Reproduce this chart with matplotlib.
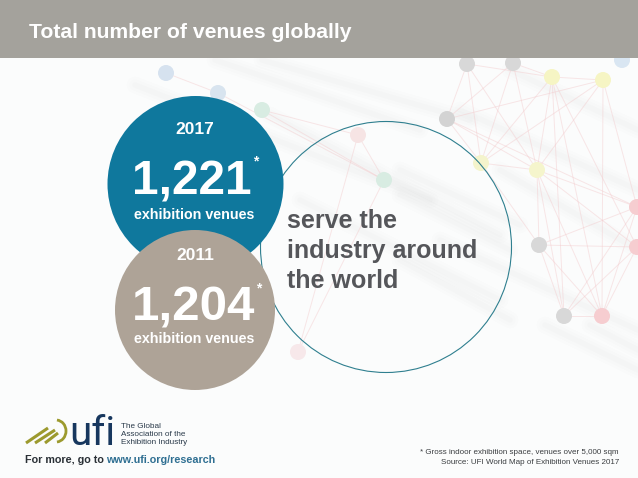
import matplotlib
matplotlib.use("Agg")
import matplotlib.pyplot as plt
from matplotlib.patches import Circle, Rectangle, Arc

plt.rcParams['font.family'] = ['Liberation Sans', 'DejaVu Sans']

title = "Total number of venues globally"
years = ["2017", "2011"]
counts = ["1,221", "1,204"]
unit = "exhibition venues"
claim = ["serve the", "industry around", "the world"]
foot_note = "* Gross indoor exhibition space, venues over 5,000 sqm"
foot_source = "Source: UFI World Map of Exhibition Venues 2017"
tagline = "For more, go to"
link = "www.ufi.org/research"
logo_lines = ["The Global", "Association of the", "Exhibition Industry"]

nodes = {
    'a': (467, 64, '#d8d8d8'), 'b': (513, 63, '#d8d8d8'), 'c': (552, 77, '#f6f5c4'),
    'd': (603, 80, '#f6f5c4'), 'e': (447, 119, '#d3d3d3'), 'f': (481, 163, '#f4f4cc'),
    'g': (537, 170, '#f5f5cc'), 'h': (539, 245, '#d8d8d8'), 'i': (564, 316, '#d8d8d8'),
    'j': (602, 316, '#f6cdd0'), 'k': (637, 207, '#f6cdd0'), 'l': (637, 247, '#f6cdd0'),
    'm': (622, 60, '#d9e6f2'), 'n': (166, 73, '#d6e2ef'), 'o': (218, 93, '#d8e4ef'),
    'p': (262, 110, '#d8ece2'), 'q': (358, 135, '#f6e4e4'), 'r': (384, 180, '#d8ece2'),
    's': (298, 352, '#f7e8ea'),
}
edges = ["ae", "af", "ag", "ac", "bc", "bf", "bg", "be", "ed", "eg", "ek", "ef", "fg", "cg", "cf",
         "cj", "ci", "cd", "cl", "dg", "dk", "dj", "df", "gh", "gi", "gj", "gk", "gl", "hl", "hi",
         "hj", "hk", "ij", "il", "ik", "jl", "jk", "fh", "pq", "pr", "qr", "or", "rs", "qs", "no"]
shadows = [(215, 60, 420, 130), (262, 60, 470, 120), (135, 85, 430, 200), (270, 115, 500, 235),
           (400, 170, 520, 225), (440, 240, 638, 330), (460, 110, 638, 190), (510, 70, 638, 130),
           (500, 170, 638, 250), (545, 325, 638, 370), (590, 325, 638, 350), (400, 195, 510, 250),
           (400, 260, 510, 320), (300, 200, 500, 300)]

fig = plt.figure(figsize=(6.38, 4.78), dpi=100, facecolor='#fbfcfc')
ax = fig.add_axes([0, 0, 1, 1])
ax.set_xlim(0, 638)
ax.set_ylim(478, 0)
ax.axis('off')

for x0, y0, x1, y1 in shadows:
    for w, al in ((12, .010), (8, .012), (4, .016)):
        ax.plot([x0, x1], [y0, y1], color='#555555', lw=w, alpha=al, solid_capstyle='round', zorder=1)
for pair in edges:
    a, b = nodes[pair[0]], nodes[pair[1]]
    ax.plot([a[0], b[0]], [a[1], b[1]], color='#f3c9cb', lw=.7, alpha=.45, zorder=2)
for x, y, c in nodes.values():
    ax.add_patch(Circle((x, y), 8, color=c, lw=0, zorder=3))

ax.add_patch(Rectangle((0, 0), 638, 58, color='#a4a29c', lw=0, zorder=4))
ax.text(29, 32, title, color='white', fontsize=15.2, fontweight='bold', va='center', zorder=5)

ax.add_patch(Circle((386, 247), 125.5, fc='none', ec='#2f7f8f', lw=.8, zorder=5))
ax.add_patch(Circle((195.5, 184), 88, color='#0f789d', lw=0, zorder=6))
ax.add_patch(Circle((195, 310), 80, color='#aea397', lw=0, zorder=7))

ax.text(195, 130, years[0], color='white', fontsize=12.5, fontweight='bold', ha='center', va='center', zorder=8)
ax.text(192, 195, counts[0], color='white', fontsize=34.5, fontweight='bold', ha='center', va='baseline', zorder=8)
ax.text(256, 161, "*", color='white', fontsize=10, fontweight='bold', ha='center', va='center', zorder=8)
ax.text(194, 215, unit, color='white', fontsize=10.3, fontweight='bold', ha='center', va='center', zorder=8)
ax.text(195, 255, years[1], color='white', fontsize=12.5, fontweight='bold', ha='center', va='center', zorder=8)
ax.text(194, 321, counts[1], color='white', fontsize=35.5, fontweight='bold', ha='center', va='baseline', zorder=8)
ax.text(259, 288, "*", color='white', fontsize=10, fontweight='bold', ha='center', va='center', zorder=8)
ax.text(194, 339, unit, color='white', fontsize=10.3, fontweight='bold', ha='center', va='center', zorder=8)

for line, y in zip(claim, (221, 251, 281)):
    ax.text(287, y, line, color='#55565a', fontsize=18, fontweight='bold', va='center', zorder=8)

# logo
for x0, y0, x1, y1 in [(26, 443, 48, 428), (35, 443, 55, 430), (45, 443, 58, 433)]:
    ax.plot([x0, x1], [y0, y1], color='#9c9a2e', lw=2.2, solid_capstyle='butt', zorder=8)
ax.add_patch(Arc((56, 431), 20, 22, theta1=-85, theta2=85, ec='#9c9a2e', lw=2, zorder=8))
ax.text(69, 445, "ufi", color='#17375e', fontsize=29, family=['Roboto', 'DejaVu Sans'], va='baseline', zorder=8)
for line, y in zip(logo_lines, (426, 434, 442)):
    ax.text(121, y, line, color='#2a3a4a', fontsize=5.9, va='center', zorder=8)

ax.text(25, 460, tagline, color='#2a3036', fontsize=7.75, fontweight='bold', va='center', zorder=8)
ax.text(106, 460, link, color='#2f6f92', fontsize=7.75, fontweight='bold', va='center', zorder=8)
ax.text(619, 452, foot_note, color='#3a3d40', fontsize=5.75, ha='right', va='center', zorder=8)
ax.text(619, 463, foot_source, color='#3a3d40', fontsize=5.75, ha='right', va='center', zorder=8)

fig.savefig('out.png', dpi=100, facecolor=fig.get_facecolor())
